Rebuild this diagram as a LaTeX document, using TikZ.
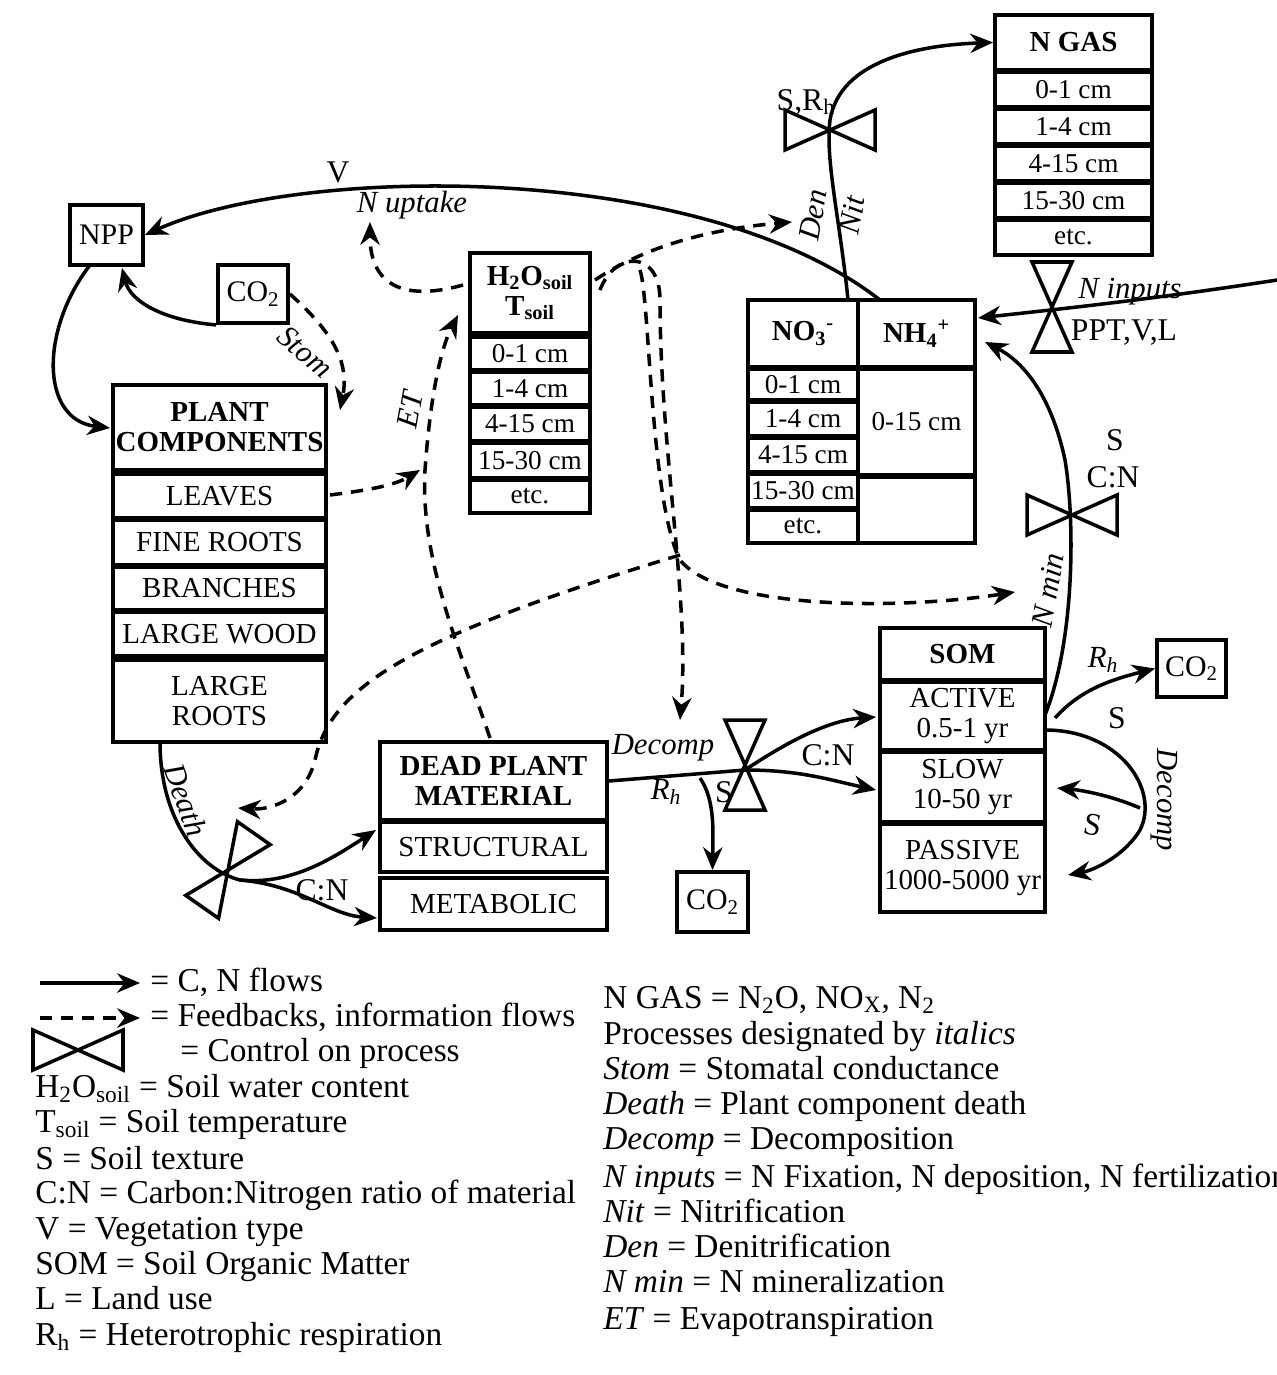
\documentclass[tikz,border=0pt]{standalone}
\usepackage{fontspec}
\setmainfont{Liberation Serif}
\usetikzlibrary{arrows.meta}
\newcommand\bx[7][]{\node[cell,#1,minimum width={(#4-#2)*0.02cm},minimum height={(#5-#3)*0.02cm}] (#6) at ({(#2+#4)/2},{(#3+#5)/2}) {#7};}
\begin{document}
\begin{tikzpicture}[x=0.02cm,y=-0.02cm,
 cell/.style={draw,line width=2.2pt,inner sep=0pt,align=center,font=\fontsize{15.5}{16}\selectfont},
 hd/.style={font=\fontsize{16.5}{17}\selectfont\bfseries},
 tx/.style={font=\fontsize{16.5}{17}\selectfont},
 lab/.style={font=\fontsize{17.5}{18}\selectfont\itshape},
 flow/.style={line width=2pt,-{Stealth[length=13pt,width=11pt]}},
 fb/.style={line width=2pt,dash pattern=on 7pt off 5pt,-{Stealth[length=13pt,width=11pt]}},
 valve/.pic={\draw[line width=2pt] (-45,-20)--(45,20)--(45,-20)--(-45,20)--cycle;},
 leg/.style={anchor=base west,font=\fontsize{19}{20}\selectfont,inner sep=0pt}]
\useasboundingbox (0,0) rectangle (1277,1375);
% boxes
\bx{70}{205}{143}{265}{npp}{\fontsize{17}{18}\selectfont NPP}
\bx{218}{265}{288}{323}{co2a}{\fontsize{17}{18}\selectfont CO\textsubscript{2}}
\bx[hd]{113}{385}{326}{470}{pc}{PLANT\\COMPONENTS}
\bx[tx]{113}{474}{326}{518}{lv}{LEAVES}
\bx[tx]{113}{520}{326}{565}{fr}{FINE ROOTS}
\bx[tx]{113}{567}{326}{610}{br}{BRANCHES}
\bx[tx]{113}{612}{326}{656}{lw}{LARGE WOOD}
\bx[tx]{113}{660}{326}{742}{lr}{LARGE\\ROOTS}
\bx[hd]{470}{253}{590}{333}{hw}{H\textsubscript{2}O\textsubscript{soil}\\T\textsubscript{soil}}
\bx{470}{337}{590}{370}{h1}{0-1 cm}
\bx{470}{372}{590}{405}{h2}{1-4 cm}
\bx{470}{407}{590}{441}{h3}{4-15 cm}
\bx{470}{443}{590}{478}{h4}{15-30 cm}
\bx{470}{480}{590}{513}{h5}{etc.}
\bx[hd]{748}{300}{858}{367}{no3}{NO\textsubscript{3}\textsuperscript{-}}
\bx[hd]{858}{300}{975}{367}{nh4}{NH\textsubscript{4}\textsuperscript{+}}
\bx{748}{369}{858}{400}{n1}{0-1 cm}
\bx{748}{402}{858}{436}{n2}{1-4 cm}
\bx{748}{438}{858}{472}{n3}{4-15 cm}
\bx{748}{474}{858}{508}{n4}{15-30 cm}
\bx{748}{510}{858}{543}{n5}{etc.}
\bx{858}{369}{975}{475}{na}{0-15 cm}
\bx{858}{477}{975}{543}{nb}{}
\bx[hd]{995}{15}{1152}{70}{ng}{N GAS}
\bx{995}{72}{1152}{107}{g1}{0-1 cm}
\bx{995}{109}{1152}{144}{g2}{1-4 cm}
\bx{995}{146}{1152}{181}{g3}{4-15 cm}
\bx{995}{183}{1152}{218}{g4}{15-30 cm}
\bx{995}{220}{1152}{255}{g5}{etc.}
\bx[hd]{880}{628}{1045}{680}{som}{SOM}
\bx[tx]{880}{682}{1045}{750}{act}{ACTIVE\\0.5-1 yr}
\bx[tx]{880}{752}{1045}{822}{slow}{SLOW\\10-50 yr}
\bx[tx]{880}{824}{1045}{912}{pas}{PASSIVE\\1000-5000 yr}
\bx[hd]{380}{742}{607}{820}{dp}{DEAD PLANT\\MATERIAL}
\bx[tx]{380}{822}{607}{872}{st}{STRUCTURAL}
\bx[tx]{380}{878}{607}{930}{met}{METABOLIC}
\bx{677}{872}{748}{932}{co2b}{\fontsize{17}{18}\selectfont CO\textsubscript{2}}
\bx{1157}{640}{1226}{697}{co2c}{\fontsize{17}{18}\selectfont CO\textsubscript{2}}
% valves
\pic at (830,130) {valve};
\pic[rotate=90] at (1052,307) {valve};
\pic at (1072,515) {valve};
\pic[rotate=90] at (745,765) {valve};
\pic[rotate=55] at (228,870) {valve};
% solid flows
\draw[flow] (880,300) .. controls (700,160) and (300,165) .. (npp.east);
\draw[flow] (848,300) .. controls (840,220) and (825,160) .. (830,120) .. controls (840,60) and (920,45) .. (ng.west);
\draw[flow] (1290,278) .. controls (1150,300) and (1050,310) .. (978,318);
\draw[flow] (1045,715) .. controls (1075,640) and (1075,520) .. (1065,460) .. controls (1050,390) and (1020,360) .. (985,342);
\draw[flow] (co2a.south west) .. controls (160,320) and (130,300) .. (122,268);
\draw[flow] (90,265) .. controls (40,330) and (40,420) .. (110,428);
\draw[flow] (160,742) .. controls (160,820) and (200,870) .. (240,880) .. controls (290,885) and (330,860) .. (376,830);
\draw[flow] (240,880) .. controls (300,885) and (330,915) .. (377,918);
\draw[flow] (dp.east) -- (745,770) .. controls (800,770) and (830,780) .. (876,790);
\draw[flow] (745,770) .. controls (790,740) and (830,720) .. (876,717);
\draw[flow] (700,778) .. controls (715,800) and (713,830) .. (co2b.north);
\draw[flow] (1055,718) .. controls (1080,690) and (1110,680) .. (co2c.west);
\draw[flow] (1045,730) .. controls (1120,730) and (1160,790) .. (1140,830) .. controls (1125,855) and (1095,870) .. (1068,875);
\draw[flow] (1140,808) .. controls (1110,795) and (1080,790) .. (1057,788);
% dashed feedbacks
\draw[fb] (co2a.east) .. controls (330,330) and (350,360) .. (340,410);
\draw[fb] (330,495) .. controls (370,490) and (395,485) .. (420,470);
\draw[fb] (490,738) .. controls (460,650) and (420,560) .. (425,470) .. controls (430,400) and (440,350) .. (458,315);
\draw[fb] (463,285) .. controls (410,300) and (370,290) .. (370,222);
\draw[fb] (595,280) .. controls (640,250) and (700,230) .. (792,222);
\draw[fb] (600,290) .. controls (615,250) and (660,250) .. (660,300) .. controls (660,450) and (690,600) .. (680,720);
\draw[fb] (640,270) .. controls (650,300) and (650,500) .. (680,560) .. controls (720,610) and (900,610) .. (1015,592);
\draw[fb] (680,555) .. controls (400,640) and (330,690) .. (315,760) .. controls (305,800) and (270,810) .. (238,808);
% labels
\node[tx,font=\fontsize{18}{19}\selectfont] at (338,172) {V};
\node[lab] at (412,205) {N uptake};
\node[tx,font=\fontsize{18}{19}\selectfont] at (806,102) {S,R\textsubscript{h}};
\node[lab,rotate=80] at (813,215) {Den};
\node[lab,rotate=80] at (852,215) {Nit};
\node[lab] at (1130,292) {N inputs};
\node[tx,font=\fontsize{18}{19}\selectfont] at (1124,333) {PPT,V,L};
\node[tx,font=\fontsize{18}{19}\selectfont] at (1115,440) {S};
\node[tx,font=\fontsize{18}{19}\selectfont] at (1113,477) {C:N};
\node[lab,rotate=80] at (1048,590) {N min};
\node[lab,rotate=-40] at (305,352) {Stom};
\node[lab,rotate=80] at (410,410) {ET};
\node[lab,rotate=-70] at (186,800) {Death};
\node[tx,font=\fontsize{18}{19}\selectfont] at (322,890) {C:N};
\node[lab] at (663,748) {Decomp};
\node[lab] at (666,792) {R\textsubscript{h}};
\node[tx,font=\fontsize{18}{19}\selectfont] at (724,792) {S};
\node[tx,font=\fontsize{18}{19}\selectfont] at (828,755) {C:N};
\node[lab] at (1103,660) {R\textsubscript{h}};
\node[tx,font=\fontsize{18}{19}\selectfont] at (1117,718) {S};
\node[lab,rotate=-90] at (1164,800) {Decomp};
\node[tx,font=\fontsize{18}{19}\selectfont,rotate=-10] at (1093,825) {S};
% legend
\draw[flow] (40,983) -- (140,983);
\draw[fb] (40,1018) -- (140,1018);
\pic at (78,1050) {valve};
\node[leg] at (150,991) {= C, N flows};
\node[leg] at (150,1026) {= Feedbacks, information flows};
\node[leg] at (180,1061) {= Control on process};
\node[leg] at (35,1097) {H\textsubscript{2}O\textsubscript{soil} = Soil water content};
\node[leg] at (35,1132) {T\textsubscript{soil} = Soil temperature};
\node[leg] at (35,1169) {S = Soil texture};
\node[leg] at (35,1203) {C:N = Carbon:Nitrogen ratio of material};
\node[leg] at (35,1239) {V = Vegetation type};
\node[leg] at (35,1274) {SOM = Soil Organic Matter};
\node[leg] at (35,1309) {L = Land use};
\node[leg] at (35,1345) {R\textsubscript{h} = Heterotrophic respiration};
\node[leg] at (603,1008) {N GAS = N\textsubscript{2}O, NO\textsubscript{X}, N\textsubscript{2}};
\node[leg] at (603,1044) {Processes designated by \textit{italics}};
\node[leg] at (603,1079) {\textit{Stom} = Stomatal conductance};
\node[leg] at (603,1114) {\textit{Death} = Plant component death};
\node[leg] at (603,1149) {\textit{Decomp} = Decomposition};
\node[leg] at (603,1187) {\textit{N inputs} = N Fixation, N deposition, N fertilization};
\node[leg] at (603,1222) {\textit{Nit} = Nitrification};
\node[leg] at (603,1257) {\textit{Den} = Denitrification};
\node[leg] at (603,1292) {\textit{N min} = N mineralization};
\node[leg] at (603,1329) {\textit{ET} = Evapotranspiration};
\end{tikzpicture}
\end{document}
